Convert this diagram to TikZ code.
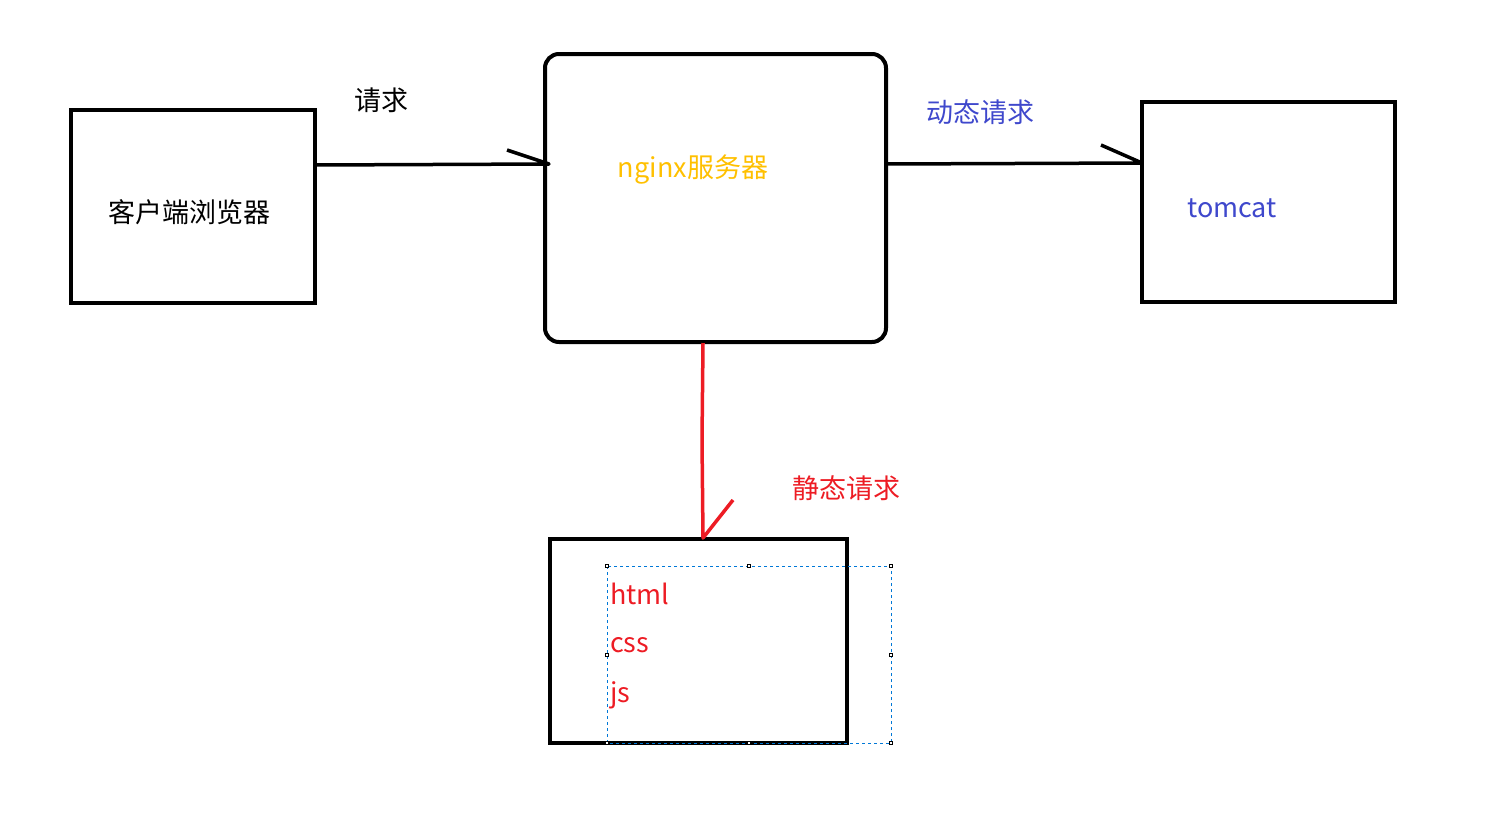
\documentclass[tikz,border=0pt]{standalone}
\usepackage{fontspec}
\setmainfont{Noto Sans CJK SC}
\begin{document}
\begin{tikzpicture}[x=1pt,y=-1pt,
 box/.style={draw=black,line width=4pt},
 lbl/.style={font=\fontsize{27}{30}\selectfont,inner sep=0pt},
 ln/.style={line width=3.5pt,line join=round},
 hd/.style={draw=black,fill=white,line width=0.6pt,minimum size=3pt,inner sep=0pt}]
\useasboundingbox (0,0) rectangle (1496,822);
\draw[box] (71,110) rectangle (315,303);
\draw[box,rounded corners=14pt] (545,54) rectangle (886,342);
\draw[box] (1142,102) rectangle (1395,302);
\draw[box] (550,539) rectangle (847,743);
\coordinate (a1) at (315,165); \coordinate (a2) at (549,164); \coordinate (a3) at (507,150);
\draw[ln] (a1) -- (a2) -- (a3);
\coordinate (b1) at (886,164); \coordinate (b2) at (1142,163); \coordinate (b3) at (1101,145);
\draw[ln] (b1) -- (b2) -- (b3);
\coordinate (c1) at (703,343); \coordinate (c2) at (703,538); \coordinate (c3) at (733,500);
\draw[ln,draw={rgb,255:red,237;green,28;blue,36}] (c1) -- (702,440) -- (c2) -- (c3);
\draw[dashed,draw={rgb,255:red,0;green,120;blue,215},line width=0.7pt] (607,566) rectangle (891,743);
\foreach \p in {(607,566),(749,566),(891,566),(607,655),(891,655),(607,743),(749,743),(891,743)} \node[hd] at \p {};
\node[lbl] (q) at (381,100) {请求};
\node[lbl] (c) at (189,212) {客户端浏览器};
\node[lbl,text={rgb,255:red,255;green,192;blue,0}] (n) at (693,170) {nginx服务器};
\node[lbl,text={rgb,255:red,63;green,72;blue,204}] (d) at (980,112) {动态请求};
\node[lbl,text={rgb,255:red,63;green,72;blue,204}] (t) at (1232,208) {tomcat};
\node[lbl,text={rgb,255:red,237;green,28;blue,36}] (s) at (846,488) {静态请求};
\node[lbl,anchor=west,text={rgb,255:red,237;green,28;blue,36}] (h) at (610,594) {html};
\node[lbl,anchor=west,text={rgb,255:red,237;green,28;blue,36}] (cs) at (610,645) {css};
\node[lbl,anchor=west,text={rgb,255:red,237;green,28;blue,36}] (j) at (610,695) {js};
\end{tikzpicture}
\end{document}
